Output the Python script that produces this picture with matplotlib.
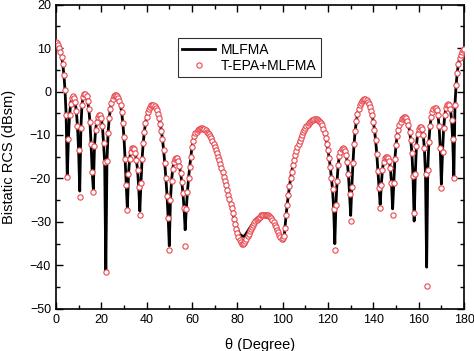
import numpy as np
import matplotlib
matplotlib.use('Agg')
import matplotlib.pyplot as plt
from matplotlib.ticker import MultipleLocator

plt.rcParams['font.family'] = ['Liberation Sans', 'DejaVu Sans']

# observation angle, 0.5 degree steps
theta = np.linspace(0, 180, 361)

# MLFMA reference curve (dBsm)
mlfma = [
    11.4, 11.1, 10.6, 10.0, 9.2, 8.0, 6.4, 3.9, 0.4, -5.4,
    -19.7, -11.0, -5.5, -2.8, -1.5, -1.1, -1.4, -2.5, -4.5, -8.0,
    -13.5, -22.9, -8.5, -3.0, -1.2, -0.6, -0.6, -1.0, -2.2, -4.0,
    -7.0, -12.1, -18.5, -22.5, -12.5, -8.8, -6.9, -5.9, -5.5, -5.5,
    -6.2, -8.0, -11.9, -16.3, -41.5, -16.0, -9.5, -6.2, -4.0, -2.6,
    -1.7, -1.1, -0.8, -0.8, -1.0, -1.4, -2.1, -3.2, -4.8, -7.2,
    -10.5, -15.5, -21.5, -27.0, -19.0, -15.5, -13.8, -13.1, -13.0, -13.3,
    -14.2, -15.8, -18.0, -22.0, -27.5, -21.0, -15.5, -11.8, -9.2, -7.3,
    -5.9, -4.8, -4.0, -3.5, -3.2, -3.1, -3.1, -3.3, -3.7, -4.3,
    -5.1, -6.1, -7.4, -9.0, -11.0, -13.5, -16.5, -20.0, -24.0, -29.0,
    -35.5, -25.0, -20.5, -17.8, -16.3, -15.5, -15.3, -15.4, -16.0, -17.2,
    -18.8, -20.8, -23.3, -26.8, -31.8, -27.0, -23.0, -20.0, -17.3, -15.0,
    -12.8, -11.3, -10.3, -9.6, -9.2, -8.9, -8.7, -8.6, -8.5, -8.5,
    -8.6, -8.7, -8.9, -9.2, -9.5, -9.8, -10.2, -10.8, -11.4, -12.1,
    -12.8, -13.5, -14.2, -15.0, -15.8, -16.7, -17.6, -18.6, -19.6, -20.6,
    -21.6, -22.6, -23.7, -24.8, -25.8, -26.9, -28.0, -29.0, -30.0, -30.9,
    -31.5, -32.2, -32.7, -33.0, -33.2, -33.3, -33.3, -33.0, -32.6, -32.2,
    -31.8, -31.4, -31.0, -30.6, -30.2, -29.8, -29.5, -29.2, -29.0, -28.8,
    -28.6, -28.5, -28.4, -28.3, -28.3, -28.3, -28.3, -28.4, -28.6, -28.8,
    -29.1, -29.5, -30.0, -30.6, -31.2, -31.8, -32.4, -33.0, -33.5, -33.9,
    -34.2, -34.4, -31.3, -28.5, -26.0, -23.8, -21.8, -20.0, -18.4, -17.0,
    -15.8, -14.7, -13.7, -12.8, -12.0, -11.3, -10.6, -10.0, -9.4, -8.9,
    -8.4, -8.0, -7.6, -7.3, -7.0, -6.8, -6.6, -6.5, -6.4, -6.4,
    -6.4, -6.5, -6.7, -6.9, -7.2, -7.8, -8.6, -9.6, -10.7, -12.0,
    -13.5, -15.3, -17.3, -19.8, -22.5, -27.0, -35.0, -26.0, -20.5, -16.8,
    -14.8, -13.8, -13.3, -13.1, -13.2, -13.7, -14.6, -16.3, -19.0, -23.5,
    -28.5, -22.0, -16.5, -12.0, -9.0, -6.8, -5.2, -4.0, -3.2, -2.6,
    -2.2, -1.9, -1.8, -1.8, -2.0, -2.3, -2.8, -3.5, -4.4, -5.5,
    -7.0, -8.8, -11.2, -14.3, -18.2, -22.2, -26.0, -21.5, -18.0, -16.2,
    -15.4, -15.0, -15.0, -15.3, -16.0, -17.5, -21.0, -27.0, -21.0, -15.5,
    -12.3, -10.2, -8.8, -7.7, -6.9, -6.3, -6.0, -5.8, -5.8, -6.1,
    -6.8, -7.8, -9.2, -11.2, -14.2, -19.5, -29.8, -19.0, -12.5, -9.8,
    -8.6, -8.1, -8.1, -8.6, -10.0, -13.0, -19.0, -40.4, -18.0, -11.5,
    -8.0, -5.8, -4.6, -4.0, -3.7, -3.7, -4.2, -5.5, -8.0, -13.0,
    -21.3, -14.0, -8.5, -5.5, -3.8, -3.0, -2.8, -3.0, -4.0, -6.5,
    -11.0, -20.0, -3.0, 1.5, 4.3, 6.3, 7.6, 8.5, 9.1, 9.5,
    9.8,
]

# T-EPA+MLFMA follows MLFMA except at these angles (nulls and the 80 deg dip)
tepa_theta = [10.5, 16.5, 31.5, 37.0, 50.0, 57.0,
              78.5, 79.0, 79.5, 80.0, 80.5, 81.0, 81.5, 82.0, 82.5, 83.0,
              83.5, 84.0, 84.5, 85.0, 85.5, 86.0, 86.5, 87.0, 87.5, 88.0,
              88.5, 89.0, 89.5, 90.0, 100.0, 100.5,
              123.0, 130.0, 143.0, 148.5, 158.0, 163.5, 170.0]
tepa_value = [-24.2, -23.2, -27.3, -28.5, -36.4, -35.5,
              -29.4, -30.5, -31.6, -32.6, -33.5, -34.2, -34.7, -35.0, -35.0, -34.8,
              -34.4, -33.9, -33.3, -32.7, -32.1, -31.6, -31.1, -30.7, -30.3, -29.9,
              -29.6, -29.3, -29.0, -28.8, -33.6, -33.3,
              -36.4, -29.7, -26.8, -28.4, -27.9, -44.7, -22.3]

tepa = np.array(mlfma, dtype=float)
for t, v in zip(tepa_theta, tepa_value):
    tepa[int(round(t * 2))] = v

fig = plt.figure(figsize=(4.74, 3.51), dpi=100)
ax = fig.add_axes([0.118, 0.12, 0.861, 0.867])

ax.plot(theta, mlfma, color='black', linewidth=2.0, label='MLFMA', zorder=2)
ax.plot(theta, tepa, linestyle='none', marker='o', markersize=3.8,
        markerfacecolor='white', markeredgecolor='#e8474f', markeredgewidth=0.8,
        label='T-EPA+MLFMA', zorder=3)

ax.set_xlim(0, 180)
ax.set_ylim(-50, 20)
ax.xaxis.set_major_locator(MultipleLocator(20))
ax.xaxis.set_minor_locator(MultipleLocator(10))
ax.yaxis.set_major_locator(MultipleLocator(10))
ax.yaxis.set_minor_locator(MultipleLocator(5))
ax.tick_params(which='both', direction='in', top=True, right=True,
               labelsize=9, width=1.0)
ax.tick_params(which='major', length=5)
ax.tick_params(which='minor', length=3)
for s in ax.spines.values():
    s.set_linewidth(1.2)

ax.set_xlabel('θ (Degree)', fontsize=10.5, labelpad=9)
ax.set_ylabel('Bistatic RCS (dBsm)', fontsize=10.5, labelpad=10)

leg = ax.legend(loc='upper left', bbox_to_anchor=(0.299, 0.889), fontsize=10,
                frameon=True, fancybox=False, borderaxespad=0, borderpad=0.3,
                handlelength=2.4, handletextpad=0.4, labelspacing=0.15)
leg.get_frame().set_edgecolor('black')
leg.get_frame().set_linewidth(0.8)

plt.savefig('out.png', dpi=100)
